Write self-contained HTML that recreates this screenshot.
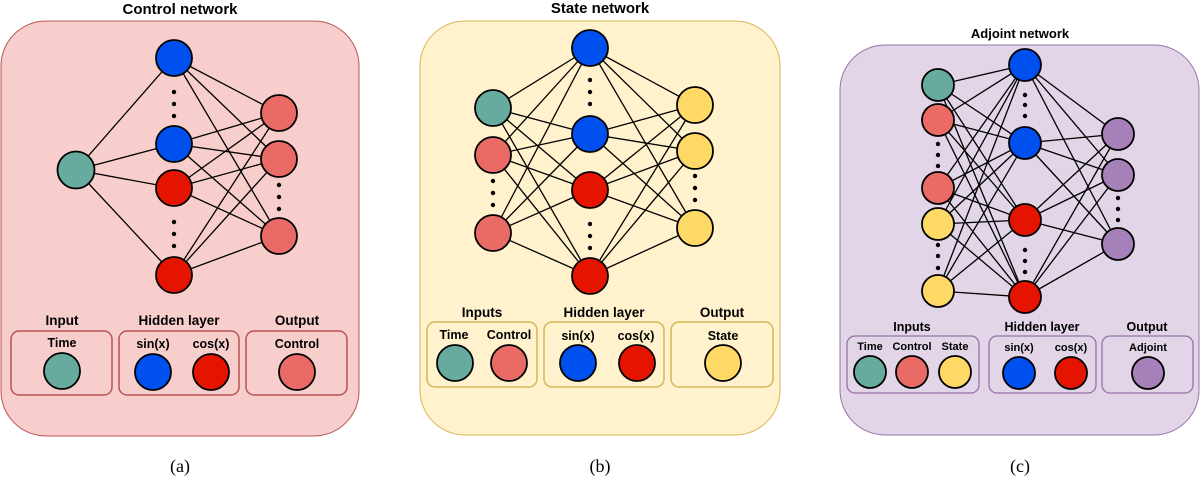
<!DOCTYPE html>
<html><head><meta charset="utf-8"><style>
html,body{margin:0;padding:0;background:#fff;width:1200px;height:478px;overflow:hidden}
svg text{font-family:"Liberation Sans",sans-serif;font-weight:bold;fill:#000}
</style></head><body>
<svg id="s" width="1200" height="478" xmlns="http://www.w3.org/2000/svg">
<rect x="1" y="21" width="358" height="415" rx="45" fill="#f8cecc" stroke="#b85450" stroke-width="1"/>
<rect x="420" y="21" width="360" height="414" rx="45" fill="#fff2cc" stroke="#d6b656" stroke-width="1"/>
<rect x="840" y="45" width="359" height="390" rx="45" fill="#e1d5e7" stroke="#9673a6" stroke-width="1"/>
<text x="180" y="14" font-size="15" text-anchor="middle">Control network</text>
<text x="600" y="13" font-size="15" text-anchor="middle">State network</text>
<text x="1020" y="38" font-size="13" text-anchor="middle">Adjoint network</text>
<g id="edges" stroke="#000" stroke-width="1.3"></g>
<g id="nodes" stroke="#000" stroke-width="1.8"></g>
<g font-size="13.5" text-anchor="middle">
<text x="62" y="325">Input</text><text x="179" y="325">Hidden layer</text><text x="297" y="325">Output</text>
<rect x="11" y="331" width="101" height="64" rx="8" fill="none" stroke="#b85450" stroke-width="1.5"/>
<rect x="119" y="331" width="120" height="64" rx="8" fill="none" stroke="#b85450" stroke-width="1.5"/>
<rect x="246" y="331" width="101" height="64" rx="8" fill="none" stroke="#b85450" stroke-width="1.5"/>
<text x="62" y="347" font-size="12.5">Time</text><text x="153" y="348" font-size="12.5">sin(x)</text><text x="211" y="348" font-size="12.5">cos(x)</text><text x="297" y="348" font-size="12.5">Control</text>

<text x="482" y="317">Inputs</text><text x="604" y="317">Hidden layer</text><text x="722" y="317">Output</text>
<rect x="427" y="322" width="110" height="65" rx="8" fill="none" stroke="#d6b656" stroke-width="1.5"/>
<rect x="544" y="322" width="120" height="65" rx="8" fill="none" stroke="#d6b656" stroke-width="1.5"/>
<rect x="671" y="322" width="102" height="65" rx="8" fill="none" stroke="#d6b656" stroke-width="1.5"/>
<text x="454" y="339" font-size="12.5">Time</text><text x="509" y="339" font-size="12.5">Control</text><text x="578" y="340" font-size="12.5">sin(x)</text><text x="636" y="340" font-size="12.5">cos(x)</text><text x="723" y="340" font-size="12.5">State</text>

<text x="912" y="331" font-size="12.5">Inputs</text><text x="1042" y="331" font-size="12.5">Hidden layer</text><text x="1147" y="331" font-size="12.5">Output</text>
<rect x="847" y="336" width="132" height="57" rx="8" fill="none" stroke="#9673a6" stroke-width="1.3"/>
<rect x="989" y="336" width="107" height="57" rx="8" fill="none" stroke="#9673a6" stroke-width="1.3"/>
<rect x="1102" y="336" width="91" height="57" rx="8" fill="none" stroke="#9673a6" stroke-width="1.3"/>
<text x="870" y="350" font-size="11">Time</text><text x="912" y="350" font-size="11">Control</text><text x="955" y="350" font-size="11">State</text><text x="1019" y="351" font-size="11">sin(x)</text><text x="1071" y="351" font-size="11">cos(x)</text><text x="1148" y="351" font-size="11">Adjoint</text>
</g>
<text x="180" y="472" text-anchor="middle" font-size="18" style="font-family:'Liberation Serif',serif;font-weight:normal">(a)</text>
<text x="600" y="472" text-anchor="middle" font-size="18" style="font-family:'Liberation Serif',serif;font-weight:normal">(b)</text>
<text x="1020" y="472" text-anchor="middle" font-size="18" style="font-family:'Liberation Serif',serif;font-weight:normal">(c)</text>
</svg>
<script>
var G='#67ab9f',R='#ea6b66',B='#0050ef',D='#e51400',Y='#ffd966',P='#a680b8';
var E=document.getElementById('edges'),N=document.getElementById('nodes'),ns='http://www.w3.org/2000/svg';
function el(p,t,a){var e=document.createElementNS(ns,t);for(var k in a)e.setAttribute(k,a[k]);p.appendChild(e);}
function conn(A,Bs){A.forEach(function(a){Bs.forEach(function(b){el(E,'line',{x1:a[0],y1:a[1],x2:b[0],y2:b[1]});});});}
function nodes(L,r){L.forEach(function(n){el(N,'circle',{cx:n[0],cy:n[1],r:r,fill:n[2]});});}
function dots(x,ys){ys.forEach(function(y){el(N,'circle',{cx:x,cy:y,r:2.2,fill:'#000',stroke:'none'});});}
var ai=[[76,170,G]],ah=[[174,58,B],[174,144,B],[174,188,D],[174,275,D]],ao=[[279,113,R],[279,159,R],[279,236,R]];
conn(ai,ah);conn(ah,ao);nodes(ai,18.5);nodes(ah,18);nodes(ao,18);
dots(174,[92,104,116,222,234,246]);dots(279,[185,197,209]);
nodes([[62,371,G],[153,372,B],[211,372,D],[297,372,R]],18);
var bi=[[493,108,G],[493,155,R],[493,233,R]],bh=[[590,48,B],[590,134,B],[590,190,D],[590,276,D]],bo=[[695,105,Y],[695,151,Y],[695,228,Y]];
conn(bi,bh);conn(bh,bo);nodes(bi,18);nodes(bh,18);nodes(bo,18);
dots(493,[181,193,205]);dots(590,[80,92,104,224,236,248]);dots(695,[176,188,200]);
nodes([[455,363,G],[509,363,R],[578,363,B],[637,363,D],[723,363,Y]],18);
var ci=[[938,85,G],[938,120,R],[938,188,R],[938,224,Y],[938,291,Y]],ch=[[1025,65,B],[1025,143,B],[1025,220,D],[1025,297,D]],co=[[1118,134,P],[1118,175,P],[1118,244,P]];
conn(ci,ch);conn(ch,co);nodes(ci,16);nodes(ch,16);nodes(co,16);
dots(938,[144,155,166,245,256,268]);dots(1025,[95,105,116,250,261,272]);dots(1118,[198,209,220]);
nodes([[870,372,G],[912,372,R],[955,372,Y],[1019,373,B],[1071,373,D],[1148,373,P]],16);
</script>
</body></html>
